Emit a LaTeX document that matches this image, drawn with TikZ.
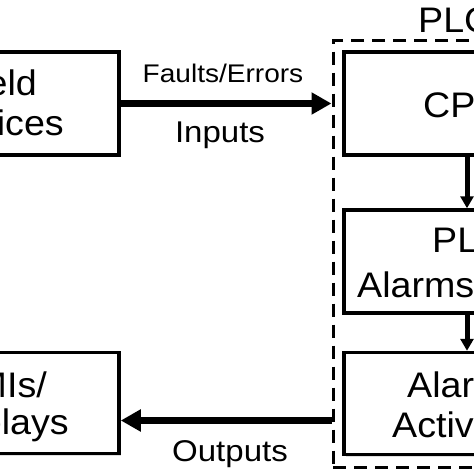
\documentclass[tikz,border=0pt]{standalone}
\usepackage{fontspec}
\setmainfont{Liberation Sans}[FakeStretch=1.1]
\newfontfamily\boxfont{Liberation Sans}[FakeStretch=1.06]
\usetikzlibrary{arrows.meta,shadows,calc}
\begin{document}
\begin{tikzpicture}[x=1pt,y=-1pt,
  box/.style={draw=black, line width=3.5pt, fill=white, inner sep=0pt,
    minimum height=103pt,
    drop shadow={opacity=0.25, shadow xshift=2pt, shadow yshift=-2pt}},
  boxtxt/.style={inner sep=0pt, font=\boxfont\fontsize{35.5}{41}\selectfont},
  bigarrow/.style={line width=6.5pt, -{Triangle[length=20pt,width=21pt]}},
  smallarrow/.style={line width=5pt, -{Triangle[length=12pt,width=13pt]}},
  lbl/.style={anchor=base, inner sep=0pt}]
\useasboundingbox (0,0) rectangle (474,474);
\clip (0,0) rectangle (474,474);
% PLC dashed enclosure
\node[draw, line width=3pt, dash pattern=on 13pt off 8pt, inner sep=0pt,
  minimum width=264pt, minimum height=427pt] (plc) at (465,254) {};
\node[boxtxt, anchor=base west] (plclabel) at (418,32) {PLC};
% boxes
\node[box, minimum width=246pt] (cpu) at (467,103.5) {};
\node[box, minimum width=246pt] (alarms) at (467,261.5) {};
\node[box, minimum width=246pt, minimum height=102pt] (act) at (467,403.5) {};
\node[box, minimum width=252pt] (field) at (-7,103.5) {};
\node[box, minimum width=252pt, minimum height=101pt] (hmi) at (-7,403) {};
% box texts
\node[boxtxt, anchor=base west] (cputxt) at (423,117) {CPU};
\node[boxtxt, anchor=base west] (alarmstxta) at (432,252) {PLC};
\node[boxtxt, anchor=base west] (alarmstxtb) at (357,297) {Alarms};
\node[boxtxt, anchor=base west] (acttxta) at (407,397) {Alarm};
\node[boxtxt, anchor=base west] (acttxtb) at (392,437) {Activation};
\node[boxtxt, anchor=base east] (fieldtxta) at (37,95) {Field};
\node[boxtxt, anchor=base east] (fieldtxtb) at (64,135) {Devices};
\node[boxtxt, anchor=base east] (hmitxta) at (47,397) {HMIs/};
\node[boxtxt, anchor=base east] (hmitxtb) at (69,434) {Displays};
% connectors
\draw[bigarrow] (field.east) -- (field.east -| plc.west);
\coordinate (outstart) at ($(plc.west |- act.center)+(0,17)$);
\draw[bigarrow] (outstart) -- (outstart -| hmi.east);
\draw[smallarrow] (cpu.south) -- (alarms.north);
\draw[smallarrow] (alarms.south) -- (act.north);
% labels
\node[lbl, font=\fontsize{25.5}{30}\selectfont] (faults) at (223,82) {Faults/Errors};
\node[lbl, font=\fontsize{30}{36}\selectfont] (inputs) at (220,142) {Inputs};
\node[lbl, font=\fontsize{30}{36}\selectfont] (outputs) at (230,461) {Outputs};
\end{tikzpicture}
\end{document}
